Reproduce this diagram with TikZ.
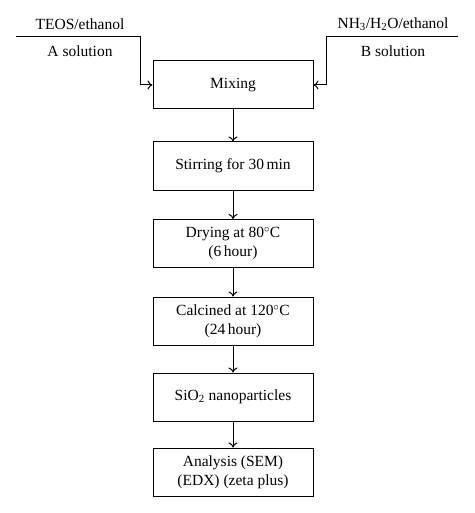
\documentclass[tikz,border=0pt]{standalone}
\usepackage{fontspec}
\setmainfont{Liberation Serif}
\usetikzlibrary{arrows.meta}
\begin{document}
\begin{tikzpicture}[x=1pt,y=-1pt,
  stepbox/.style={draw, line width=1pt, minimum width=160pt, minimum height=48pt, align=center, font=\fontsize{15.5}{19}\selectfont, inner sep=0pt},
  flow/.style={draw, line width=1pt, -{To[length=5pt,width=9pt]}},
  lbl/.style={font=\fontsize{15.5}{19}\selectfont, inner sep=0pt}]
\useasboundingbox (0,0) rectangle (474,513);
\node[stepbox] (mix) at (233,85) {Mixing};
\node[stepbox] (stir) at (233,166) {Stirring for 30\,min};
\node[stepbox] (dry) at (233,243.5) {Drying at 80$^\circ$C\\(6\,hour)};
\node[stepbox] (cal) at (233,321) {Calcined at 120$^\circ$C\\(24\,hour)};
\node[stepbox] (sio) at (233,397) {SiO\textsubscript{2} nanoparticles};
\node[stepbox] (ana) at (233,472) {Analysis (SEM)\\(EDX) (zeta plus)};
\node[lbl] (ta) at (80,24) {TEOS/ethanol};
\node[lbl] (sa) at (80,51) {A solution};
\node[lbl] (tb) at (393,24) {NH\textsubscript{3}/H\textsubscript{2}O/ethanol};
\node[lbl] (sb) at (393,51) {B solution};
\coordinate (a0) at (16,37);
\coordinate (a1) at (140,37);
\coordinate (b0) at (458,37);
\coordinate (b1) at (326,37);
\draw[flow] (a0) -- (a1) |- (mix.west);
\draw[flow] (b0) -- (b1) |- (mix.east);
\draw[flow] (mix) -- (stir);
\draw[flow] (stir) -- (dry);
\draw[flow] (dry) -- (cal);
\draw[flow] (cal) -- (sio);
\draw[flow] (sio) -- (ana);
\end{tikzpicture}
\end{document}
